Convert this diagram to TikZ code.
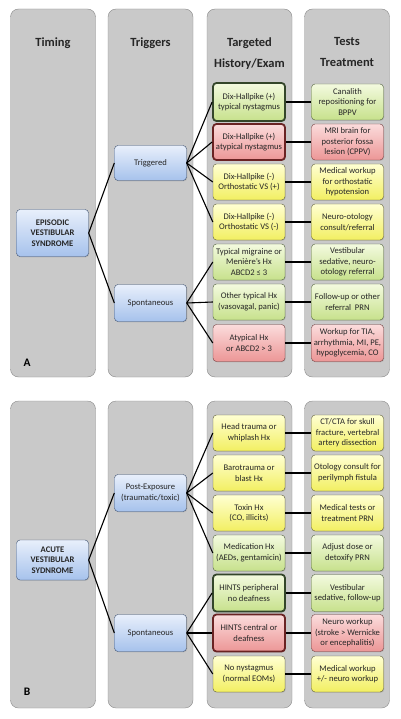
\documentclass[tikz,border=0pt]{standalone}
\usepackage{fontspec}
\setmainfont{Carlito}
\usetikzlibrary{shadows}

\definecolor{panelgray}{HTML}{C9C9C9}
\definecolor{paneledge}{HTML}{8A8A8A}
\definecolor{bluetop}{HTML}{E8EFFB}
\definecolor{bluebot}{HTML}{A6C2EC}
\definecolor{blueedge}{HTML}{3A4E6E}
\definecolor{greentop}{HTML}{F3FADF}
\definecolor{greenbot}{HTML}{C7E18C}
\definecolor{greenedge}{HTML}{4E5E3A}
\definecolor{yellowtop}{HTML}{FFFFD2}
\definecolor{yellowbot}{HTML}{F2EF62}
\definecolor{yellowedge}{HTML}{5E5C3A}
\definecolor{redtop}{HTML}{FBDCDC}
\definecolor{redbot}{HTML}{EC9696}
\definecolor{rededge}{HTML}{6E3A3A}
\definecolor{darkgreen}{HTML}{34462A}
\definecolor{darkred}{HTML}{6A2323}

\begin{document}
\begin{tikzpicture}[
    x=1pt, y=-1pt,
    panel/.style={
        rectangle,
        rounded corners=8pt,
        draw=paneledge,
        fill=panelgray,
        minimum width=85pt
    },
    header/.style={
        font=\fontsize{12.5}{21}\selectfont\bfseries,
        align=center,
        text=black!85,
        anchor=north
    },
    box/.style={
        rectangle,
        rounded corners=3.5pt,
        draw,
        minimum width=72pt,
        minimum height=36pt,
        inner sep=1pt,
        align=center,
        text=black!85,
        font=\fontsize{8.6}{10.6}\selectfont,
        drop shadow={shadow xshift=0.8pt, shadow yshift=-0.8pt, opacity=0.25}
    },
    bluebox/.style={box, top color=bluetop, bottom color=bluebot, draw=blueedge},
    greenbox/.style={box, top color=greentop, bottom color=greenbot, draw=greenedge},
    yellowbox/.style={box, top color=yellowtop, bottom color=yellowbot, draw=yellowedge},
    redbox/.style={box, top color=redtop, bottom color=redbot, draw=rededge},
    strong/.style={line width=1.8pt},
    link/.style={line width=1.1pt, black}
]

\useasboundingbox (0,0) rectangle (400,719);

% Panels
\node[panel, minimum height=368pt] (timA) at (53,193) {};
\node[panel, minimum height=368pt] (trgA) at (150.5,193) {};
\node[panel, minimum height=368pt] (hisA) at (249.5,193) {};
\node[panel, minimum height=368pt] (tstA) at (347,193) {};
\node[panel, minimum height=307pt] (timB) at (53,554.5) {};
\node[panel, minimum height=307pt] (trgB) at (150.5,554.5) {};
\node[panel, minimum height=307pt] (hisB) at (249.5,554.5) {};
\node[panel, minimum height=307pt] (tstB) at (347,554.5) {};

% Headers
\node[header] (hTiming) at (53,34) {Timing};
\node[header] (hTriggers) at (150.5,34) {Triggers};
\node[header] (hHistory) at (249.5,34) {Targeted\\History/Exam};
\node[header] (hTests) at (347,34) {Tests\\Treatment};

% Panel A
\node[bluebox, minimum height=47pt, font=\fontsize{8.6}{10.7}\selectfont\bfseries] (evs) at (52.5,233) {EPISODIC\\VESTIBULAR\\SYNDROME};
\node[bluebox, minimum height=35pt] (trig) at (150.5,163) {Triggered};
\node[bluebox, minimum height=37pt] (spontA) at (150.5,303) {Spontaneous};

\node[greenbox, strong, draw=darkgreen, minimum height=38pt] (a1) at (249,102) {Dix-Hallpike (+)\\typical nystagmus};
\node[redbox, strong, draw=darkred] (a2) at (249,142) {Dix-Hallpike (+)\\atypical nystagmus};
\node[yellowbox] (a3) at (249,182) {Dix-Hallpike (-)\\Orthostatic VS (+)};
\node[yellowbox] (a4) at (249,222) {Dix-Hallpike (-)\\Orthostatic VS (-)};
\node[greenbox] (a5) at (249,262) {Typical migraine or\\Meni\`ere's Hx\\ABCD2 ≤ 3};
\node[greenbox] (a6) at (249,302) {Other typical Hx\\(vasovagal, panic)};
\node[redbox, minimum height=37pt] (a7) at (249,343) {Atypical Hx\\or ABCD2 > 3};

\node[greenbox] (ta1) at (347.5,102) {Canalith\\repositioning for\\BPPV};
\node[redbox] (ta2) at (347.5,142) {MRI brain for\\posterior fossa\\lesion (CPPV)};
\node[yellowbox] (ta3) at (347.5,182) {Medical workup\\for orthostatic\\hypotension};
\node[yellowbox] (ta4) at (347.5,222) {Neuro-otology\\consult/referral};
\node[greenbox] (ta5) at (347.5,262) {Vestibular\\sedative, neuro-\\otology referral};
\node[greenbox] (ta6) at (347.5,302) {Follow-up or other\\referral\ \ PRN};
\node[redbox, minimum height=37pt] (ta7) at (347.5,343) {Workup for TIA,\\arrhythmia, MI, PE,\\hypoglycemia, CO};

\node[font=\fontsize{11.5}{13}\selectfont\bfseries] (labA) at (27,363) {A};

\draw[link] (evs.east) -- (trig.west);
\draw[link] (evs.east) -- (spontA.west);
\draw[link] (trig.east) -- (a1.west);
\draw[link] (trig.east) -- (a2.west);
\draw[link] (trig.east) -- (a3.west);
\draw[link] (trig.east) -- (a4.west);
\draw[link] (spontA.east) -- (a5.west);
\draw[link] (spontA.east) -- (a6.west);
\draw[link] (spontA.east) -- (a7.west);
\draw[link] (a1) -- (ta1);
\draw[link] (a2) -- (ta2);
\draw[link] (a3) -- (ta3);
\draw[link] (a4) -- (ta4);
\draw[link] (a5) -- (ta5);
\draw[link] (a6) -- (ta6);
\draw[link] (a7) -- (ta7);

% Panel B
\node[bluebox, minimum height=40pt, font=\fontsize{8.6}{10.7}\selectfont\bfseries] (avs) at (52.5,560) {ACUTE\\VESTIBULAR\\SYDNROME};
\node[bluebox, minimum height=37pt] (post) at (150.5,493) {Post-Exposure\\(traumatic/toxic)};
\node[bluebox, minimum height=37pt] (spontB) at (150.5,633) {Spontaneous};

\node[yellowbox] (b1) at (249,433) {Head trauma or\\whiplash Hx};
\node[yellowbox] (b2) at (249,473) {Barotrauma or\\blast Hx};
\node[yellowbox] (b3) at (249,513) {Toxin Hx\\(CO, illicits)};
\node[greenbox] (b4) at (249,553) {Medication Hx\\(AEDs, gentamicin)};
\node[greenbox, strong, draw=darkgreen, minimum height=37pt] (b5) at (249,593) {HINTS peripheral\\no deafness};
\node[redbox, strong, draw=darkred, minimum height=37pt] (b6) at (249,633) {HINTS central or\\deafness};
\node[yellowbox] (b7) at (249,674) {No nystagmus\\(normal EOMs)};

\node[yellowbox] (tb1) at (347.5,433) {CT/CTA for skull\\fracture, vertebral\\artery dissection};
\node[yellowbox] (tb2) at (347.5,473) {Otology consult for\\perilymph fistula};
\node[yellowbox] (tb3) at (347.5,513) {Medical tests or\\treatment PRN};
\node[greenbox] (tb4) at (347.5,553) {Adjust dose or\\detoxify PRN};
\node[greenbox, minimum height=37pt] (tb5) at (347.5,593) {Vestibular\\sedative, follow-up};
\node[redbox, minimum height=37pt] (tb6) at (347.5,633) {Neuro workup\\(stroke > Wernicke\\or encephalitis)};
\node[yellowbox] (tb7) at (347.5,674) {Medical workup\\+/- neuro workup};

\node[font=\fontsize{11.5}{13}\selectfont\bfseries] (labB) at (27,692) {B};

\draw[link] (avs.east) -- (post.west);
\draw[link] (avs.east) -- (spontB.west);
\draw[link] (post.east) -- (b1.west);
\draw[link] (post.east) -- (b2.west);
\draw[link] (post.east) -- (b3.west);
\draw[link] (post.east) -- (b4.west);
\draw[link] (spontB.east) -- (b5.west);
\draw[link] (spontB.east) -- (b6.west);
\draw[link] (spontB.east) -- (b7.west);
\draw[link] (b1) -- (tb1);
\draw[link] (b2) -- (tb2);
\draw[link] (b3) -- (tb3);
\draw[link] (b4) -- (tb4);
\draw[link] (b5) -- (tb5);
\draw[link] (b6) -- (tb6);
\draw[link] (b7) -- (tb7);

\end{tikzpicture}
\end{document}
